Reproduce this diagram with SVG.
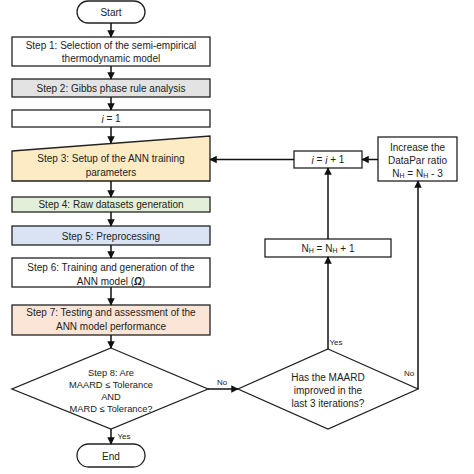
<svg xmlns="http://www.w3.org/2000/svg" width="474" height="474" viewBox="0 0 474 474">
<style>
.b{stroke:#222;stroke-width:1.3;}
.t{font-family:"Liberation Sans",Arial,sans-serif;font-size:10px;fill:#222;text-anchor:middle;dominant-baseline:central;}
.d{font-size:9.3px;}
.s{font-size:7px;}
.c{stroke:#111;stroke-width:1.5;fill:none;}
</style>
<defs>
<marker id="a" viewBox="0 0 10 10" refX="9" refY="5" markerWidth="5" markerHeight="5" orient="auto"><path d="M0,0 L10,5 L0,10 z" fill="#111"/></marker>
</defs>
<rect width="474" height="474" fill="#fff"/>
<g id="start"><rect class="b" x="77" y="1" width="68" height="22" rx="11" fill="#fff"/><text class="t" x="111" y="12">Start</text></g>
<g id="step1"><rect class="b" x="12" y="37" width="198" height="29" fill="#fff"/><text class="t" x="111" y="45.5">Step 1: Selection of the semi-empirical</text><text class="t" x="111" y="58.5">thermodynamic  model</text></g>
<g id="step2"><rect class="b" x="12" y="79" width="198" height="18" fill="#e3e3e3"/><text class="t" x="111" y="88">Step 2: Gibbs phase rule analysis</text></g>
<g id="i1"><rect class="b" x="12" y="110" width="198" height="17" fill="#fff"/><text class="t" x="111" y="118.5"><tspan font-style="italic">i</tspan> = 1</text></g>
<g id="step3"><polygon class="b" points="12,151 210,136 210,181 12,181" fill="#fdebc3"/><text class="t" x="111" y="158">Step 3: Setup of the ANN training</text><text class="t" x="111" y="172">parameters</text></g>
<g id="step4"><rect class="b" x="12" y="197" width="198" height="15" fill="#e2efd9"/><text class="t" x="111" y="204.5">Step 4: Raw datasets generation</text></g>
<g id="step5"><rect class="b" x="12" y="226" width="198" height="19" fill="#dae3f3"/><text class="t" x="111" y="236">Step 5: Preprocessing</text></g>
<g id="step6"><rect class="b" x="12" y="258" width="198" height="29" fill="#fff"/><text class="t" x="111" y="267.5">Step 6: Training and generation of the</text><text class="t" x="111" y="281">ANN model (<tspan font-style="italic" font-weight="bold">Ω</tspan>)</text></g>
<g id="step7"><rect class="b" x="12" y="305" width="198" height="30" fill="#fbe5d6"/><text class="t" x="111" y="312.5">Step 7: Testing and assessment of the</text><text class="t" x="111" y="326.5">ANN model performance</text></g>
<g id="step8"><polygon class="b" points="111,348 208,389 111,429 12,389" fill="#fff"/><text class="t d" x="111" y="373">Step 8: Are</text><text class="t d" x="111" y="385">MAARD ≤ Tolerance</text><text class="t d" x="111" y="397">AND</text><text class="t d" x="111" y="408.5">MARD ≤ Tolerance?</text></g>
<g id="end"><rect class="b" x="77" y="444" width="68" height="23" rx="11.5" fill="#fff"/><text class="t" x="111" y="456">End</text></g>
<g id="improved"><polygon class="b" points="328,349 418,389 328,429 238,389" fill="#fff"/><text class="t" x="328" y="377.5">Has the MAARD</text><text class="t" x="328" y="390.5">improved in the</text><text class="t" x="328" y="403.5">last 3 iterations?</text></g>
<g id="nh1"><rect class="b" x="265" y="239" width="126" height="18" fill="#fff"/><text class="t" x="328" y="248">N<tspan class="s" dy="2">H</tspan><tspan dy="-2"> = N</tspan><tspan class="s" dy="2">H</tspan><tspan dy="-2"> + 1</tspan></text></g>
<g id="iinc"><rect class="b" x="294" y="151" width="68" height="17" fill="#fff"/><text class="t" x="328" y="159.5"><tspan font-style="italic">i</tspan> = <tspan font-style="italic">i</tspan> + 1</text></g>
<g id="increase"><rect class="b" x="378" y="137" width="79" height="44" fill="#fff"/><text class="t" x="417.5" y="147">Increase the</text><text class="t" x="417.5" y="160">DataPar ratio</text><text class="t" x="417.5" y="173">N<tspan class="s" dy="2">H</tspan><tspan dy="-2"> = N</tspan><tspan class="s" dy="2">H</tspan><tspan dy="-2"> - 3</tspan></text></g>
<g id="connectors">
<path class="c" d="M111,23 V37" marker-end="url(#a)"/>
<path class="c" d="M111,66 V79" marker-end="url(#a)"/>
<path class="c" d="M111,97 V110" marker-end="url(#a)"/>
<path class="c" d="M111,127 V143" marker-end="url(#a)"/>
<path class="c" d="M111,181 V197" marker-end="url(#a)"/>
<path class="c" d="M111,212 V226" marker-end="url(#a)"/>
<path class="c" d="M111,245 V258" marker-end="url(#a)"/>
<path class="c" d="M111,287 V305" marker-end="url(#a)"/>
<path class="c" d="M111,335 V348" marker-end="url(#a)"/>
<path class="c" d="M111,429 V444" marker-end="url(#a)"/>
<path class="c" d="M208,389 H238" marker-end="url(#a)"/>
<path class="c" d="M328,349 V257" marker-end="url(#a)"/>
<path class="c" d="M328,239 V168" marker-end="url(#a)"/>
<path class="c" d="M418,389 V181" marker-end="url(#a)"/>
<path class="c" d="M378,159.5 H362" marker-end="url(#a)"/>
<path class="c" d="M294,159.5 H210" marker-end="url(#a)"/>
<text class="t" x="124" y="436" style="font-size:8px">Yes</text>
<text class="t" x="222" y="382" style="font-size:8px">No</text>
<text class="t" x="336" y="342" style="font-size:8px">Yes</text>
<text class="t" x="409" y="373" style="font-size:8px">No</text>
</g>
</svg>
